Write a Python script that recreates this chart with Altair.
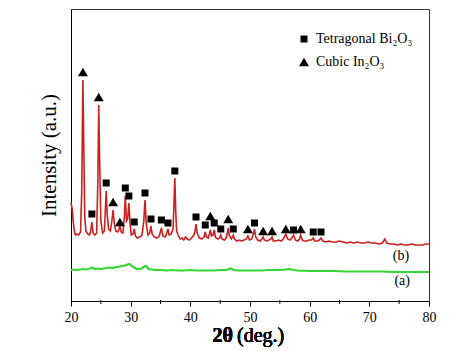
import altair as alt
import pandas as pd

# ---- data (intensity in arbitrary units) ----
b_2theta = [20.0, 20.2, 20.4, 20.6, 20.8, 21.0, 21.3, 21.6, 21.8, 22.0, 22.15, 22.3, 22.5, 22.8,
            23.1, 23.3, 23.5, 23.7, 24.0, 24.3, 24.5, 24.65, 24.8, 25.0, 25.3, 25.6, 25.75, 25.9,
            26.05, 26.3, 26.6, 26.85, 27.05, 27.25, 27.5, 27.8, 28.0, 28.2, 28.4, 28.7, 28.95, 29.1,
            29.3, 29.5, 29.7, 29.9, 30.1, 30.4, 30.6, 30.8, 31.1, 31.5, 31.9, 32.2, 32.4, 32.6, 32.9,
            33.2, 33.4, 33.6, 34.0, 34.4, 34.8, 35.15, 35.4, 35.8, 36.05, 36.25, 36.45, 36.8, 37.1,
            37.25, 37.4, 37.55, 37.7, 37.95, 38.3, 38.6, 38.9, 39.2, 39.5, 39.8, 40.2, 40.6, 40.8,
            40.95, 41.15, 41.5, 41.9, 42.3, 42.5, 42.7, 43.0, 43.2, 43.35, 43.55, 43.8, 44.0, 44.2,
            44.6, 44.9, 45.1, 45.3, 45.7, 46.0, 46.2, 46.35, 46.55, 46.9, 47.2, 47.4, 47.8, 48.2,
            48.6, 49.0, 49.4, 49.65, 49.9, 50.3, 50.55, 50.75, 50.95, 51.3, 51.7, 52.0, 52.2, 52.4,
            52.8, 53.2, 53.5, 53.7, 53.9, 54.3, 54.8, 55.2, 55.6, 56.0, 56.3, 56.7, 57.0, 57.3, 57.6,
            58.0, 58.3, 58.5, 58.75, 59.1, 59.5, 59.9, 60.3, 60.6, 60.85, 61.3, 61.6, 61.9, 62.2,
            62.7, 63.2, 63.8, 64.4, 65.0, 65.6, 66.2, 66.8, 67.4, 68.0, 68.6, 69.2, 69.8, 70.4, 71.0,
            71.6, 72.2, 72.6, 72.9, 73.5, 74.1, 74.7, 75.3, 75.9, 76.5, 77.1, 77.7, 78.3, 78.9, 79.5,
            80.0]
b_int = [98, 92, 78, 68, 66, 67, 66, 69, 110, 221, 150, 85, 70, 67,
         66, 70, 79, 68, 66, 68, 120, 196, 140, 80, 68, 70, 90, 110,
         88, 72, 70, 80, 91, 78, 70, 69, 71, 75, 69, 68, 85, 105,
         80, 82, 98, 78, 66, 67, 72, 65, 63, 64, 66, 80, 101, 78, 66,
         68, 75, 67, 64, 63, 65, 73, 65, 64, 68, 72, 66, 67, 72,
         95, 123, 90, 70, 66, 62, 63, 61, 64, 62, 61, 63, 66, 70,
         77, 68, 63, 62, 64, 69, 64, 63, 67, 71, 65, 66, 71, 64,
         62, 63, 66, 62, 61, 63, 68, 73, 65, 62, 66, 62, 60, 61,
         60, 61, 62, 65, 61, 62, 67, 72, 64, 61, 60, 62, 64, 61,
         60, 61, 62, 64, 60, 60, 61, 60, 62, 67, 62, 61, 63, 66, 61,
         60, 62, 66, 61, 60, 60, 61, 61, 63, 60, 60, 61, 63, 60,
         59, 60, 59, 59, 60, 59, 58, 59, 58, 59, 58, 58, 59, 58, 58,
         57, 58, 62, 58, 57, 57, 56, 57, 56, 56, 57, 56, 56, 56, 57,
         57]

a_2theta = [20.0, 20.5, 21.0, 21.5, 22.0, 22.5, 23.0, 23.5, 24.0, 24.5, 25.0, 25.5, 26.0, 26.5,
            27.0, 27.5, 28.0, 28.5, 29.0, 29.5, 29.8, 30.2, 30.6, 31.0, 31.5, 32.0, 32.4, 32.7,
            33.0, 33.5, 34.0, 35.0, 36.0, 37.0, 38.0, 39.0, 40.0, 41.0, 42.0, 43.0, 44.0, 45.0,
            46.0, 46.7, 47.3, 48.0, 49.0, 50.0, 51.0, 52.0, 53.0, 54.0, 55.0, 56.0, 56.6, 57.3,
            58.0, 60.0, 62.0, 64.0, 66.0, 68.0, 70.0, 72.0, 74.0, 76.0, 78.0, 80.0]
a_int = [31, 31.5, 31, 31.5, 32, 31.5, 32, 33.5, 32, 32.5, 32, 32.5, 33, 33.5,
         33, 34, 34, 35, 35.5, 36.5, 37, 35, 33.5, 32, 32, 33, 35, 34.5,
         32, 31.5, 31, 31, 30.5, 31, 30.5, 30.5, 31, 30.5, 30.5, 30.5, 30.5, 31,
         31, 32.5, 31, 30.5, 30.5, 30.5, 30.5, 30.5, 31, 31, 31, 31.5, 32, 31,
         30.5, 30, 30, 30, 29.5, 29.5, 29.5, 29.5, 29, 29, 29, 29]

SQ = "Tetragonal Bi\u2082O\u2083"
TRI = "Cubic In\u2082O\u2083"
peak_2theta = [22.0, 24.65, 23.5, 25.9, 27.05, 28.2, 29.1, 29.7, 30.6, 32.4, 33.4, 35.15,
               36.25, 37.4, 40.95, 42.5, 43.35, 44.0, 45.1, 46.35, 47.2, 49.65, 50.75, 52.2,
               53.7, 56.0, 57.3, 58.5, 60.6, 61.9]
peak_int = [229, 204, 87, 118, 99, 79, 113, 105, 79, 108, 82, 81,
            78, 130, 84, 76, 85, 78, 72, 82, 72, 72, 78, 70,
            70, 72, 71, 72, 69, 69]
peak_phase = [TRI, TRI, SQ, SQ, TRI, TRI, SQ, SQ, SQ, SQ, SQ, SQ,
              SQ, SQ, SQ, SQ, TRI, SQ, SQ, TRI, SQ, TRI, SQ, TRI,
              TRI, TRI, SQ, TRI, SQ, SQ]

curve_labels = ["(b)", "(a)"]
label_2theta = [75.3, 75.5]
label_int = [45, 20]

x_ticks = [20, 30, 40, 50, 60, 70, 80]
minor_ticks = [25, 35, 45, 55, 65, 75]

FONT = "Liberation Serif"
W, H = 358, 292

df_b = pd.DataFrame({"t": b_2theta, "i": b_int})
df_a = pd.DataFrame({"t": a_2theta, "i": a_int})
df_p = pd.DataFrame({"t": peak_2theta, "i": peak_int, "phase": peak_phase})
df_l = pd.DataFrame({"t": label_2theta, "i": label_int, "lab": curve_labels})
df_m = pd.DataFrame({"t": minor_ticks})

x_scale = alt.Scale(domain=[20, 80], nice=False, zero=False)
y_scale = alt.Scale(domain=[0, 292], nice=False, zero=False)

x_enc = alt.X("t:Q", scale=x_scale,
              axis=alt.Axis(values=x_ticks, title=None, grid=False, tickSize=5,
                            labelFlush=False, labelOverlap=False,
                            labelFont=FONT, labelFontSize=14, labelColor="black",
                            labelPadding=4, domainColor="black", tickColor="black"))
y_enc = alt.Y("i:Q", scale=y_scale,
              axis=alt.Axis(labels=False, ticks=False, grid=False,
                            title="Intensity (a.u.)", titleFont=FONT, titleFontSize=21,
                            titleFontWeight="normal", titleColor="black", titlePadding=12,
                            domainColor="black"))

line_b = alt.Chart(df_b).mark_line(color="#cc1f1f", strokeWidth=1.6).encode(x=x_enc, y=y_enc)
line_a = alt.Chart(df_a).mark_line(color="#33d633", strokeWidth=2.2).encode(x="t:Q", y="i:Q")

leg = alt.Legend(title=None, orient="none", legendX=226, legendY=23, padding=0,
                 labelFont=FONT, labelFontSize=14, labelColor="black", labelOffset=5,
                 rowPadding=9, symbolStrokeWidth=0, symbolFillColor="black")
markers = alt.Chart(df_p).mark_point(filled=True, color="black", opacity=1).encode(
    x="t:Q", y="i:Q",
    shape=alt.Shape("phase:N", scale=alt.Scale(domain=[SQ, TRI], range=["square", "triangle-up"]), legend=leg),
    size=alt.Size("phase:N", scale=alt.Scale(domain=[SQ, TRI], range=[49, 100]), legend=leg),
)

labels = alt.Chart(df_l).mark_text(font=FONT, fontSize=14, color="black", baseline="middle").encode(
    x="t:Q", y="i:Q", text="lab:N")

minor = alt.Chart(df_m).mark_rule(color="black", strokeWidth=1).encode(
    x="t:Q", y=alt.value(H - 1), y2=alt.value(H + 3))

xt1 = alt.Chart(df_m).mark_text(text="2\u03b8", font=FONT, fontSize=20, fontWeight="bold",
                                align="right", baseline="alphabetic", color="black").encode(
    x=alt.value(162), y=alt.value(333))
xt2 = alt.Chart(df_m).mark_text(text="(deg.)", font=FONT, fontSize=20, fontWeight="normal",
                                align="left", baseline="alphabetic", color="black").encode(
    x=alt.value(166), y=alt.value(333))

chart = alt.layer(line_a, line_b, markers, labels, minor, xt1, xt2).properties(
    width=W, height=H,
    background="white",
    autosize=alt.AutoSizeParams(type="none"),
    padding={"left": 71, "top": 9, "right": 45, "bottom": 50},
).configure_view(stroke="#333", strokeWidth=1)

chart.save("out.html", embed_options={"renderer": "svg", "actions": False})
